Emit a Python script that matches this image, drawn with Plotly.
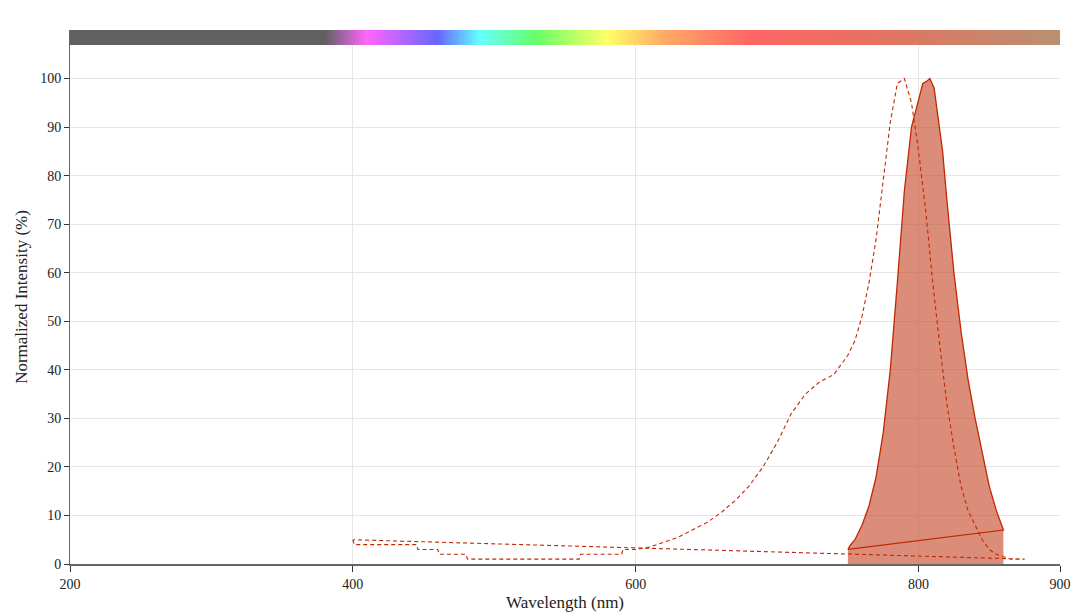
import numpy as np
import plotly.graph_objects as go

exc_x = [400, 401, 445, 446, 460, 461, 480, 481, 560, 561, 590, 591, 600, 610, 620, 630, 640, 650, 660, 670, 680, 690, 700, 710, 720, 730, 740, 750, 755, 760, 765, 770, 775, 780, 785, 790, 795, 800, 805, 810, 815, 820, 825, 830, 835, 840, 845, 850, 855, 860, 865, 870, 875]
exc_y = [5, 4, 4, 3, 3, 2, 2, 1, 1, 2, 2, 3, 3, 3.5, 4.5, 5.5, 7, 8.5, 10.5, 13, 16, 20, 25, 31, 35, 37.5, 39, 43, 46, 51, 58, 67, 79, 91, 99, 100, 95, 85, 73, 58, 45, 33, 24, 16, 11, 8, 5, 3, 2, 1.5, 1, 1, 1]

em_x = [750, 752, 755, 760, 765, 770, 775, 780, 785, 790, 795, 800, 803, 806, 808, 811, 814, 817, 820, 825, 830, 835, 840, 845, 850, 855, 860]
em_y = [3, 4, 5, 8, 12, 18, 27, 40, 58, 77, 90, 96, 99, 99.5, 100, 98, 92, 85, 75, 60, 48, 38, 30, 23, 16, 11, 7]

spec_stops = [(200, '#606060'), (380, '#606060'), (410, '#ff66ff'), (460, '#6666ff'), (490, '#66ffff'), (530, '#66ff66'), (580, '#ffff66'), (620, '#ffaa66'), (680, '#ff6666'), (760, '#e87060'), (900, '#b89070')]

fig = go.Figure()
wl = np.arange(200, 901, 1)
cs = [[(w - 200) / 700, c] for w, c in spec_stops]
fig.add_trace(go.Heatmap(x=wl, y=[107.75, 109.25], z=[wl, wl], colorscale=cs, showscale=False, hoverinfo='skip'))

fig.add_trace(go.Scatter(x=em_x, y=em_y, mode='lines', fill='tozeroy', fillcolor='rgba(200,80,50,0.65)', line=dict(color='rgba(0,0,0,0)', width=0), showlegend=False))
fig.add_trace(go.Scatter(x=em_x + [em_x[0]], y=em_y + [em_y[0]], mode='lines', line=dict(color='#c02800', width=1.3), showlegend=False))
fig.add_trace(go.Scatter(x=exc_x + [exc_x[0]], y=exc_y + [exc_y[0]], mode='lines', line=dict(color='#c02800', width=1.1, dash='4px,3px'), showlegend=False))

fig.update_layout(
    width=1080, height=614, margin=dict(l=62, r=28, t=22, b=58),
    plot_bgcolor='white', paper_bgcolor='white',
    font=dict(family='Liberation Serif', size=14, color='#222'),
    xaxis=dict(range=[200, 900], tickvals=[200, 400, 600, 800, 900], showgrid=True, gridcolor='#e6e6e6',
               showline=True, linecolor='#666', linewidth=2, ticks='outside', ticklen=6, tickcolor='#333',
               title=dict(text='Wavelength (nm)', standoff=5), zeroline=False),
    yaxis=dict(range=[0, 110], tickvals=list(range(0, 101, 10)), showgrid=True, gridcolor='#e6e6e6',
               showline=True, linecolor='#666', linewidth=1, ticks='outside', ticklen=5, tickcolor='#333',
               title=dict(text='Normalized Intensity (%)', standoff=8), zeroline=False),
)
fig.write_html("out.html")
